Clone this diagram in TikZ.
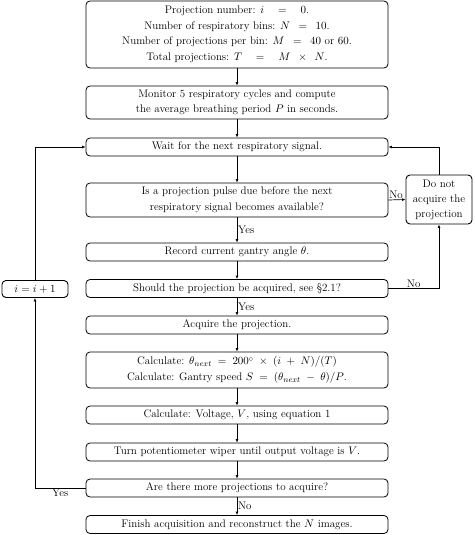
\documentclass[tikz,border=0pt]{standalone}
\usetikzlibrary{arrows.meta}
\begin{document}
\begin{tikzpicture}[x=1pt,y=-1pt,
  box/.style={draw, rounded corners=4pt, line width=0.8pt, align=center,
    minimum width=302pt, inner sep=1pt, font=\fontsize{11}{15.5}\selectfont},
  sbox/.style={draw, rounded corners=4pt, line width=0.9pt, align=center,
    minimum width=66pt, inner sep=1pt, font=\fontsize{11}{15}\selectfont},
  arr/.style={line width=0.7pt, -{Latex[length=3.4pt,width=2.8pt]}},
  lbl/.style={font=\fontsize{11}{12}\selectfont, inner sep=0.8pt}]
\useasboundingbox (0,0) rectangle (474,535);
\node[box, minimum height=67pt] (n1) at (237,34.5) {Projection number: $i\quad=\quad0$.\\
 Number of respiratory bins: $N\enspace=\enspace10$.\\
 Number of projections per bin: $M\enspace=\enspace40$ or $60$.\\
 Total projections: $T\quad=\quad M\enspace\times\enspace N$.};
\node[box, minimum height=33pt] (n2) at (237,102.5) {Monitor 5 respiratory cycles and compute\\ the average breathing period $P$ in seconds.};
\node[box, minimum height=18pt] (n3) at (237,147) {Wait for the next respiratory signal.};
\node[box, minimum height=34pt] (n4) at (237,200) {Is a projection pulse due before the next\\ respiratory signal becomes available?};
\node[box, minimum height=18pt] (n5) at (237,252) {Record current gantry angle $\theta$.};
\node[box, minimum height=18pt] (n6) at (237,288.5) {Should the projection be acquired, see \S2.1?};
\node[box, minimum height=18pt] (n7) at (237,325) {Acquire the projection.};
\node[box, minimum height=36pt] (n8) at (237,370) {Calculate: $\theta_{next}\;=\;200^\circ\;\times\;(i\;+\;N)/(T)$\\ Calculate: Gantry speed $S\;=\;(\theta_{next}\;-\;\theta)/P$.};
\node[box, minimum height=18pt] (n9) at (237,415) {Calculate: Voltage, $V$, using equation 1};
\node[box, minimum height=18pt] (n10) at (237,452) {Turn potentiometer wiper until output voltage is $V$.};
\node[box, minimum height=18pt] (n11) at (237,488) {Are there more projections to acquire?};
\node[box, minimum height=18pt] (n12) at (237,524.5) {Finish acquisition and reconstruct the $N$ images.};
\node[sbox, minimum height=49pt] (nd) at (439,199.5) {Do not\\ acquire the\\ projection};
\node[sbox, minimum height=17pt] (ni) at (35,289) {$i=i+1$};
\coordinate (tr) at (439,147);
\coordinate (br) at (439,288.5);
\coordinate (tl) at (35,147);
\coordinate (bl) at (35,488);
\draw[arr] (n1) -- (n2);
\draw[arr] (n2) -- (n3);
\draw[arr] (n3) -- (n4);
\draw[arr] (n4) -- node[lbl, right] {Yes} (n5);
\draw[arr] (n5) -- (n6);
\draw[arr] (n6) -- node[lbl, right] {Yes} (n7);
\draw[arr] (n7) -- (n8);
\draw[arr] (n8) -- (n9);
\draw[arr] (n9) -- (n10);
\draw[arr] (n10) -- (n11);
\draw[arr] (n11) -- node[lbl, right] {No} (n12);
\draw[arr] (n4.east) -- node[lbl, above, pos=0.45] {No} (nd.west);
\draw[arr] (nd.north) -- (tr) -- (n3.east);
\draw[arr] (n6.east) -- node[lbl, above, pos=0.5] {No} (br) -- (nd.south);
\draw[arr] (n11.west) -- node[lbl, below, pos=0.5] {Yes} (bl) -- (ni.south);
\draw[arr] (ni.north) -- (tl) -- (n3.west);
\end{tikzpicture}
\end{document}
